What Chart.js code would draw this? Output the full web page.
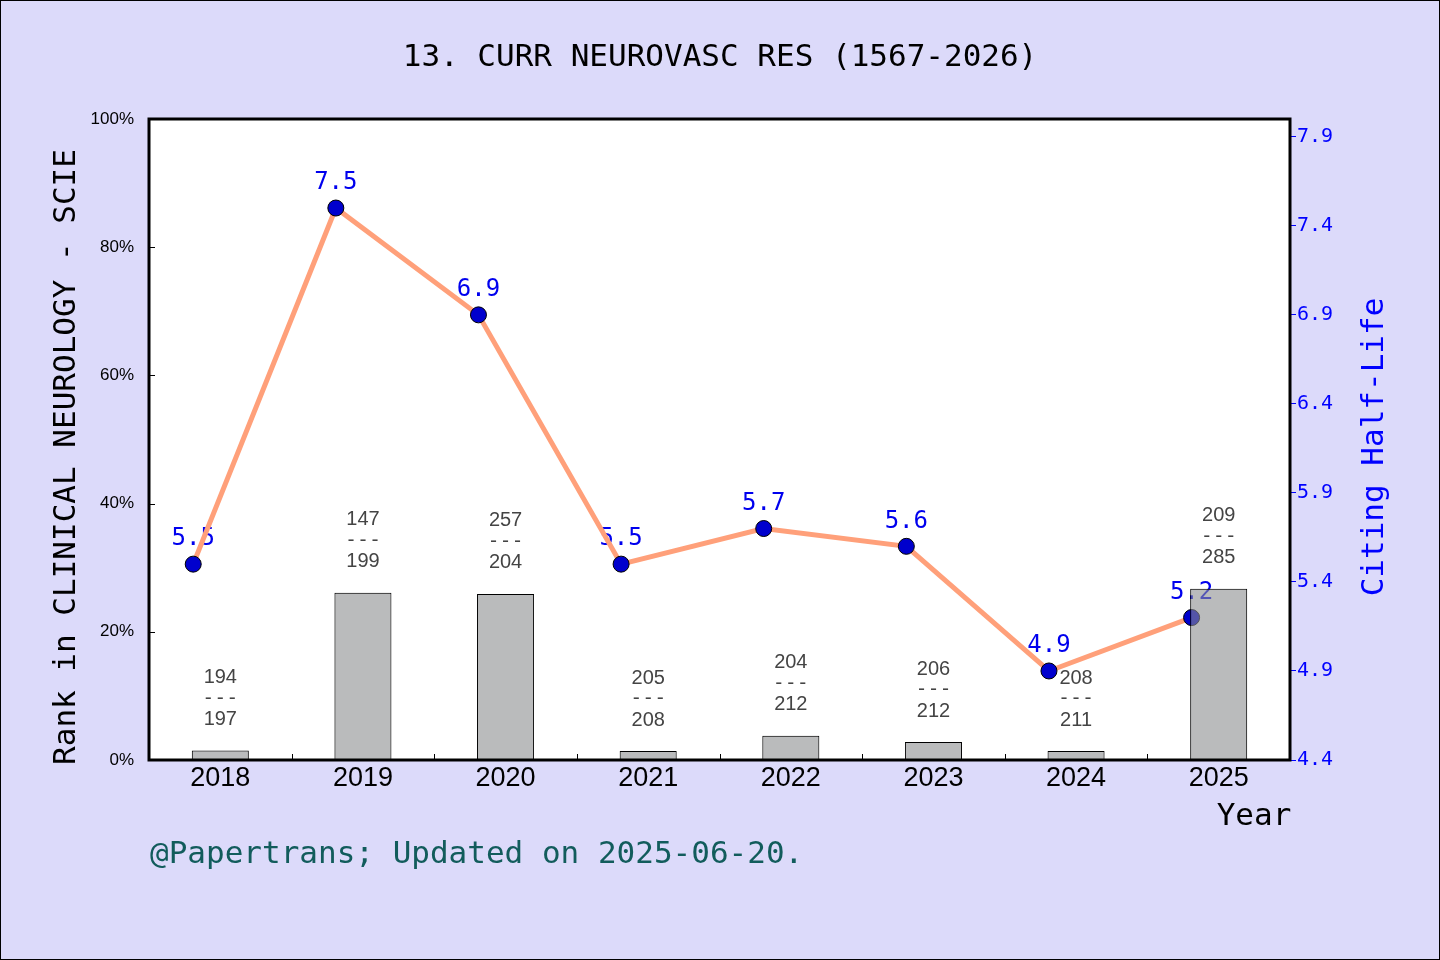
<!DOCTYPE html>
<html>
<head>
<meta charset="utf-8">
<title>CURR NEUROVASC RES</title>
<script src="https://cdn.jsdelivr.net/npm/chart.js@4.4.1/dist/chart.umd.min.js"></script>
<style>
    html, body { margin: 0; padding: 0; background: #dcdafa; }
    canvas { display: block; }
</style>
</head>
<body>
<canvas id="rankChart" width="1440" height="960"></canvas>
<script>
// data
const years = ['2018', '2019', '2020', '2021', '2022', '2023', '2024', '2025'];
const rankPercent = [1.5, 26.1, 25.9, 1.4, 3.8, 2.8, 1.4, 26.7];
const rankLabels = ['194', '147', '257', '205', '204', '206', '208', '209'];
const totalLabels = ['197', '199', '204', '208', '212', '212', '211', '285'];
const halfLife = [5.5, 7.5, 6.9, 5.5, 5.7, 5.6, 4.9, 5.2];
const halfLifeTicks = [4.4, 4.9, 5.4, 5.9, 6.4, 6.9, 7.4, 7.9];
const percentTicks = [0, 20, 40, 60, 80, 100];

// the line points sit at the left edge of each bar, not the category centre
const pointShift = -0.19;

const MONO = '"DejaVu Sans Mono", monospace';
const SANS = '"Liberation Sans", Arial, sans-serif';

const decorPlugin = {
    id: 'decor',
    beforeDraw(chart) {
        const { ctx, chartArea: a } = chart;
        ctx.save();
        ctx.fillStyle = '#dcdafa';
        ctx.fillRect(0, 0, chart.width, chart.height);
        ctx.fillStyle = '#ffffff';
        ctx.fillRect(a.left, a.top, a.right - a.left, a.bottom - a.top);
        ctx.restore();
    },
    // half-life values go under the line and the bars
    beforeDatasetsDraw(chart) {
        const { ctx } = chart;
        const meta = chart.getDatasetMeta(1);
        ctx.save();
        ctx.font = '24px ' + MONO;
        ctx.fillStyle = '#0000ee';
        ctx.textAlign = 'center';
        ctx.textBaseline = 'middle';
        meta.data.forEach((pt, i) => {
            ctx.fillText(halfLife[i].toFixed(1), pt.x, pt.y - 25);
        });
        ctx.restore();
    },
    afterDatasetsDraw(chart) {
        const { ctx } = chart;
        const meta = chart.getDatasetMeta(0);
        ctx.save();
        ctx.fillStyle = '#444444';
        ctx.textAlign = 'center';
        ctx.textBaseline = 'middle';
        meta.data.forEach((bar, i) => {
            ctx.font = '20px ' + SANS;
            ctx.fillText(rankLabels[i], bar.x, bar.y - 73);
            ctx.fillText(totalLabels[i], bar.x, bar.y - 31);
            ctx.font = '20px ' + MONO;
            ctx.fillText('---', bar.x, bar.y - 52);
        });
        ctx.restore();
    },
    afterDraw(chart) {
        const { ctx, chartArea: a } = chart;
        const y = chart.scales.y;
        ctx.save();

        // inner tick marks
        ctx.strokeStyle = '#000';
        ctx.lineWidth = 1;
        ctx.beginPath();
        const step = (a.right - a.left) / years.length;
        for (let k = 1; k < years.length; k++) {
            const px = Math.round(a.left + k * step) + 0.5;
            ctx.moveTo(px, a.bottom);
            ctx.lineTo(px, a.bottom - 6);
        }
        percentTicks.forEach(v => {
            const py = Math.round(y.getPixelForValue(v)) + 0.5;
            ctx.moveTo(a.left, py);
            ctx.lineTo(a.left + 6, py);
        });
        ctx.stroke();

        // plot frame
        ctx.lineWidth = 3;
        ctx.strokeRect(a.left, a.top, a.right - a.left, a.bottom - a.top);

        // figure border
        ctx.lineWidth = 1;
        ctx.strokeRect(0.5, 0.5, chart.width - 1, chart.height - 1);

        // texts
        ctx.textAlign = 'center';
        ctx.textBaseline = 'middle';
        ctx.fillStyle = '#000';
        ctx.font = '31px ' + MONO;
        ctx.fillText('13. CURR NEUROVASC RES (1567-2026)', 720, 58);
        ctx.fillText('Year', 1254, 817);

        ctx.save();
        ctx.translate(67, 457);
        ctx.rotate(-Math.PI / 2);
        ctx.fillText('Rank in CLINICAL NEUROLOGY - SCIE', 0, 0);
        ctx.restore();

        ctx.save();
        ctx.translate(1375, 447);
        ctx.rotate(-Math.PI / 2);
        ctx.fillStyle = '#0000ff';
        ctx.fillText('Citing Half-Life', 0, 0);
        ctx.restore();

        ctx.textAlign = 'left';
        ctx.fillStyle = '#125c5c';
        ctx.fillText('@Papertrans; Updated on 2025-06-20.', 150, 855);

        ctx.restore();
    }
};

const ctx = document.getElementById('rankChart').getContext('2d');
const rankChart = new Chart(ctx, {
    type: 'bar',
    data: {
        labels: years,
        datasets: [{
            type: 'bar',
            data: rankPercent,
            xAxisID: 'x',
            yAxisID: 'y',
            order: 0,
            grouped: false,
            backgroundColor: 'rgba(140, 141, 143, 0.6)',
            borderColor: '#000',
            borderWidth: 1,
            borderSkipped: false,
            barPercentage: 0.4,
            categoryPercentage: 1.0
        }, {
            type: 'line',
            data: halfLife.map((v, i) => ({ x: i + pointShift, y: v })),
            xAxisID: 'x2',
            yAxisID: 'y1',
            order: 1,
            borderColor: '#ffa07a',
            borderWidth: 5,
            tension: 0,
            pointRadius: 8,
            pointBackgroundColor: '#0000cd',
            pointBorderColor: '#000',
            pointBorderWidth: 1
        }]
    },
    options: {
        responsive: false,
        animation: false,
        devicePixelRatio: 1,
        layout: { padding: { top: 119, left: 0, right: 0, bottom: 0 } },
        plugins: {
            legend: { display: false },
            tooltip: { enabled: false }
        },
        scales: {
            x: {
                offset: true,
                grid: { display: false },
                border: { display: false },
                ticks: {
                    color: '#000',
                    font: { family: SANS, size: 27 },
                    padding: -6,
                    maxRotation: 0
                },
                afterFit(scale) { scale.height = 200; }
            },
            x2: {
                type: 'linear',
                display: false,
                offset: false,
                grid: { offset: false },
                min: -0.5,
                max: years.length - 0.5
            },
            y: {
                position: 'left',
                min: 0,
                max: 100,
                grid: { display: false },
                border: { display: false },
                ticks: {
                    stepSize: 20,
                    color: '#000',
                    font: { family: SANS, size: 17 },
                    padding: 7,
                    callback: v => v + '%'
                },
                afterFit(scale) { scale.width = 149; }
            },
            y1: {
                position: 'right',
                min: 4.4,
                max: 8.0,
                grid: {
                    drawOnChartArea: false,
                    drawTicks: true,
                    tickLength: 6,
                    color: '#0000ff'
                },
                border: { display: false },
                afterBuildTicks(scale) {
                    scale.ticks = halfLifeTicks.map(v => ({ value: v }));
                },
                ticks: {
                    color: '#0000ff',
                    font: { family: MONO, size: 20 },
                    padding: 1,
                    callback: v => Number(v).toFixed(1)
                },
                afterFit(scale) { scale.width = 150; }
            }
        }
    },
    plugins: [decorPlugin]
});
</script>
</body>
</html>
